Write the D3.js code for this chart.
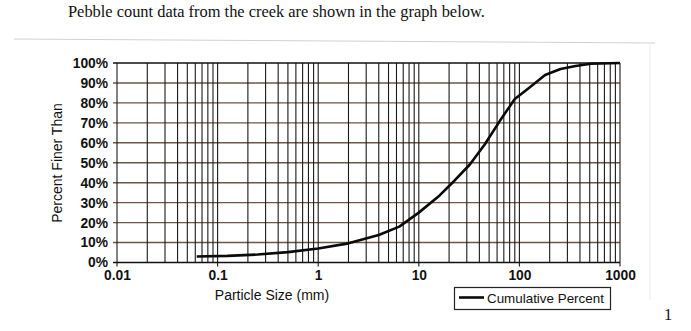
<!DOCTYPE html>
<html>
<head>
<meta charset="utf-8">
<script src="https://cdn.jsdelivr.net/npm/d3@7/dist/d3.min.js"></script>
<style>
  html, body { margin: 0; padding: 0; background: #ffffff; }
  svg { display: block; }
</style>
</head>
<body>
<script>
// Pebble count: particle size (mm) vs cumulative percent finer
const particleSize = [0.062, 0.125, 0.25, 0.5, 1, 2, 4, 6.4, 10, 16, 22.6, 32, 45, 64, 90, 128, 180, 256, 362, 512, 1000];
const percentFiner = [3, 3.3, 4, 5.2, 7, 9.6, 13.8, 18, 25, 33.5, 41, 49, 59, 71, 82, 88, 94, 97, 98.5, 99.6, 100];
const xTickValues = [0.01, 0.1, 1, 10, 100, 1000];
const xTickLabels = ["0.01", "0.1", "1", "10", "100", "1000"];
const yTickValues = [0, 10, 20, 30, 40, 50, 60, 70, 80, 90, 100];
const yTickLabels = ["0%", "10%", "20%", "30%", "40%", "50%", "60%", "70%", "80%", "90%", "100%"];
const headingText = "Pebble count data from the creek are shown in the graph below.";
const seriesName = "Cumulative Percent";

const W = 691, H = 331;
const plot = { left: 117, right: 620, top: 63, bottom: 262.5 };

const svg = d3.select("body").append("svg")
  .attr("width", W).attr("height", H);

svg.append("rect").attr("width", W).attr("height", H).attr("fill", "#ffffff");

// page heading
svg.append("text")
  .attr("x", 68).attr("y", 17)
  .attr("font-family", "'Liberation Serif', 'Times New Roman', serif")
  .attr("font-size", 16.4)
  .attr("fill", "#111")
  .text(headingText);

// faint frame edge of the chart area
svg.append("line")
  .attr("x1", 14).attr("y1", 39).attr("x2", 655).attr("y2", 43)
  .attr("stroke", "#d0d0d0").attr("stroke-width", 1);
svg.append("line")
  .attr("x1", 650).attr("y1", 43).attr("x2", 650).attr("y2", 300)
  .attr("stroke", "#ececec").attr("stroke-width", 1);

const x = d3.scaleLog().domain([0.01, 1000]).range([plot.left, plot.right]);
const y = d3.scaleLinear().domain([0, 100]).range([plot.bottom, plot.top]);

// vertical log grid: 1..9 within every decade
const xGrid = [];
for (let e = -2; e < 3; e++) {
  for (let k = 1; k < 10; k++) xGrid.push(k * Math.pow(10, e));
}
xGrid.push(1000);

const grid = svg.append("g");
grid.selectAll("line.hg")
  .data(yTickValues.filter(v => v > 0 && v < 100))
  .join("line")
  .attr("class", "hg")
  .attr("x1", plot.left - 4).attr("x2", plot.right)
  .attr("y1", d => y(d)).attr("y2", d => y(d))
  .attr("stroke", "#6e5646").attr("stroke-width", 1.4);

grid.selectAll("line.vg")
  .data(xGrid)
  .join("line")
  .attr("class", "vg")
  .attr("x1", d => x(d)).attr("x2", d => x(d))
  .attr("y1", plot.top)
  .attr("y2", d => xTickValues.includes(d) ? plot.bottom + 4 : plot.bottom)
  .attr("stroke", "#1a1a1a").attr("stroke-width", 1.1);

// top and bottom frame lines
[0, 100].forEach(v => {
  svg.append("line")
    .attr("x1", plot.left - 4).attr("x2", plot.right)
    .attr("y1", y(v)).attr("y2", y(v))
    .attr("stroke", "#111").attr("stroke-width", 1.4);
});

// y tick labels
const yAxis = d3.axisLeft(y)
  .tickValues(yTickValues)
  .tickSize(0)
  .tickPadding(9)
  .tickFormat((d, i) => yTickLabels[i]);
const gy = svg.append("g").attr("transform", `translate(${plot.left},0)`).call(yAxis);
gy.select(".domain").remove();
gy.selectAll("text")
  .attr("font-family", "'Liberation Sans', Arial, sans-serif")
  .attr("font-size", 13.8).attr("font-weight", "bold").attr("fill", "#111");

// x tick labels
const xAxis = d3.axisBottom(x)
  .tickValues(xTickValues)
  .tickSize(0)
  .tickPadding(8)
  .tickFormat((d, i) => xTickLabels[i]);
const gx = svg.append("g").attr("transform", `translate(0,${plot.bottom})`).call(xAxis);
gx.select(".domain").remove();
gx.selectAll("text")
  .attr("font-family", "'Liberation Sans', Arial, sans-serif")
  .attr("font-size", 13.8).attr("font-weight", "bold").attr("fill", "#111");

// axis titles
svg.append("text")
  .attr("transform", "translate(62,163) rotate(-90)")
  .attr("text-anchor", "middle")
  .attr("font-family", "'Liberation Sans', Arial, sans-serif")
  .attr("font-size", 14).attr("fill", "#111")
  .text("Percent Finer Than");

svg.append("text")
  .attr("x", 272).attr("y", 300)
  .attr("text-anchor", "middle")
  .attr("font-family", "'Liberation Sans', Arial, sans-serif")
  .attr("font-size", 14).attr("fill", "#111")
  .text("Particle Size (mm)");

// cumulative curve
const pts = particleSize.map((s, i) => [s, percentFiner[i]]);
svg.append("path")
  .datum(pts)
  .attr("fill", "none")
  .attr("stroke", "#0a0a0a")
  .attr("stroke-width", 2.6)
  .attr("stroke-linejoin", "round")
  .attr("d", d3.line().x(d => x(d[0])).y(d => y(d[1])));

// legend
const lg = svg.append("g");
lg.append("rect")
  .attr("x", 454.5).attr("y", 287.5).attr("width", 156).attr("height", 22)
  .attr("fill", "#fff").attr("stroke", "#222").attr("stroke-width", 1.2);
lg.append("line")
  .attr("x1", 459).attr("x2", 484).attr("y1", 297.5).attr("y2", 297.5)
  .attr("stroke", "#0a0a0a").attr("stroke-width", 2.6);
lg.append("text")
  .attr("x", 487).attr("y", 303)
  .attr("font-family", "'Liberation Sans', Arial, sans-serif")
  .attr("font-size", 13.4).attr("fill", "#111")
  .text(seriesName);

// page number
svg.append("text")
  .attr("x", 664).attr("y", 320)
  .attr("font-family", "'Liberation Serif', 'Times New Roman', serif")
  .attr("font-size", 16.4).attr("fill", "#111")
  .text("1");
</script>
</body>
</html>
